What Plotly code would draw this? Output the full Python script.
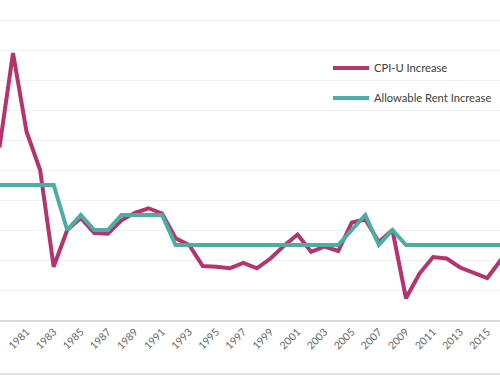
import plotly.graph_objects as go

years = list(range(1979, 2018))
cpi = [9.5, 15.8, 10.55, 8.0, 1.55, 4.0, 4.8, 3.8, 3.75, 4.65, 5.15, 5.45, 5.1,
       3.45, 3.0, 1.6, 1.55, 1.45, 1.8, 1.45, 2.1, 2.95, 3.7, 2.55, 2.9, 2.6,
       4.5, 4.7, 3.2, 4.0, -0.55, 1.1, 2.2, 2.1, 1.5, 1.15, 0.8, 2.0, 2.7]
rent = [7, 7, 7, 7, 7, 4, 5, 4, 4, 5, 5, 5, 5,
        3, 3, 3, 3, 3, 3, 3, 3, 3, 3, 3, 3, 3,
        4, 5, 3, 4, 3, 3, 3, 3, 3, 3, 3, 3, 3]
tick_years = list(range(1979, 2018, 2))
tick_labels = [str(y) for y in tick_years]

PINK = "#B5346F"
TEAL = "#4CAEA3"

fig = go.Figure()
fig.add_trace(go.Scatter(x=years, y=cpi, mode="lines", name="CPI-U Increase",
                         line=dict(color=PINK, width=4), legendgroup="a"))
fig.add_trace(go.Scatter(x=years, y=rent, mode="lines", name="Allowable Rent Increase",
                         line=dict(color=TEAL, width=4), legendgroup="b"))

fig.update_layout(
    width=500, height=375,
    margin=dict(l=0, r=0, t=0, b=55, pad=0),
    paper_bgcolor="white", plot_bgcolor="white",
    font=dict(family="Lato, Open Sans, sans-serif", color="#404040"),
    showlegend=True,
    legend=dict(x=0.656, y=0.833, xanchor="left", yanchor="top",
                font=dict(size=11.2, color="#404040"), tracegroupgap=11,
                itemwidth=36, bgcolor="rgba(0,0,0,0)"),
    xaxis=dict(range=[1979.04, 2015.94], tickmode="array", tickvals=tick_years,
               ticktext=tick_labels, tickangle=-45, showgrid=False,
               showline=True, linecolor="#D9D9D9", linewidth=1.5, ticks="",
               tickfont=dict(size=10.5, color="#666666"), zeroline=False,
               automargin=False),
    yaxis=dict(range=[-2, -2 + 320 / 15], dtick=2, tick0=0, showgrid=True,
               gridcolor="#F0F0F0", gridwidth=1, showticklabels=False,
               zeroline=False, ticks="", automargin=False),
)
fig.add_shape(type="line", xref="paper", yref="paper", x0=0, x1=1,
              y0=-54 / 320, y1=-54 / 320, line=dict(color="#D9D9D9", width=1.5))

fig.write_html("out.html", config={"displayModeBar": False},
               post_script="document.body.style.margin='0';document.body.style.overflow='hidden';")
